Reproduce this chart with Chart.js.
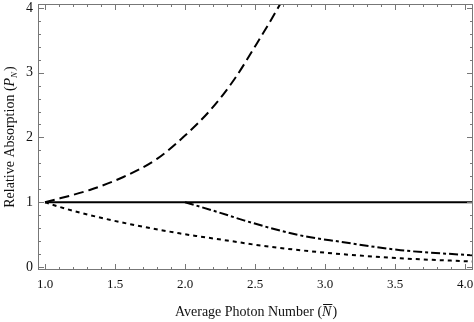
<!DOCTYPE html>
<html>
<head>
<meta charset="utf-8">
<script src="https://cdn.jsdelivr.net/npm/chart.js@4/dist/chart.umd.min.js"></script>
<style>
html,body{margin:0;padding:0;background:#fff;}
#wrap{width:474px;height:322px;}
</style>
</head>
<body>
<div id="wrap"><canvas id="c" width="474" height="322"></canvas></div>
<script>
// ---- data ----
const solidX = [1.0, 4.05];
const solidY = [1.0, 1.0];

const dashedX = [1.0, 1.32, 1.56, 1.80, 1.99, 2.18, 2.35, 2.51, 2.68, 2.80];
const dashedY = [1.0, 1.19, 1.39, 1.67, 2.01, 2.42, 2.89, 3.44, 4.06, 4.55];

const dashDotX = [2.0, 2.11, 2.32, 2.42, 2.82, 3.11, 3.54, 4.05];
const dashDotY = [1.0, 0.93, 0.79, 0.72, 0.49, 0.39, 0.26, 0.18];

const dottedX = [1.0, 1.04, 1.25, 1.61, 1.96, 2.11, 2.30, 2.58, 3.06, 3.54, 4.05];
const dottedY = [1.0, 0.97, 0.84, 0.66, 0.52, 0.47, 0.41, 0.32, 0.21, 0.135, 0.085];

const xTicks = [1.0, 1.5, 2.0, 2.5, 3.0, 3.5, 4.0];
const yTicks = [0, 1, 2, 3, 4];

const xTitle = "Average Photon Number";
const yTitle = "Relative Absorption";

const pts = (xs, ys) => xs.map((x, i) => ({x: x, y: ys[i]}));

const FONT = "'Liberation Serif', 'DejaVu Serif', serif";

const framePlugin = {
  id: 'frame',
  afterDatasetsDraw(chart) {
    const ctx = chart.ctx;
    const a = chart.chartArea;
    const xs = chart.scales.x, ys = chart.scales.y;
    ctx.save();
    ctx.strokeStyle = '#777';
    ctx.lineWidth = 1;
    ctx.strokeRect(a.left + 0.5, a.top + 0.5, a.right - a.left - 1, a.bottom - a.top - 1);
    ctx.beginPath();
    for (let k = 10; k <= 40; k++) {
      const v = k / 10;
      const px = Math.round(xs.getPixelForValue(v)) + 0.5;
      const len = (k % 5 === 0) ? 6 : 3;
      ctx.moveTo(px, a.bottom); ctx.lineTo(px, a.bottom - len);
      ctx.moveTo(px, a.top); ctx.lineTo(px, a.top + len);
    }
    for (let k = 0; k <= 20; k++) {
      const v = k / 5;
      const py = Math.round(ys.getPixelForValue(v)) + 0.5;
      const len = (k % 5 === 0) ? 6 : 3;
      ctx.moveTo(a.left, py); ctx.lineTo(a.left + len, py);
      ctx.moveTo(a.right, py); ctx.lineTo(a.right - len, py);
    }
    ctx.stroke();
    ctx.restore();
  },
  afterDraw(chart) {
    const ctx = chart.ctx;
    const a = chart.chartArea;
    ctx.save();
    ctx.fillStyle = '#111';
    ctx.textBaseline = 'alphabetic';
    const f = '14px ' + FONT, fi = 'italic 14px ' + FONT;
    const p1 = xTitle + ' (', p2 = 'N', p3 = ')';
    ctx.font = f; const w1 = ctx.measureText(p1).width, w3 = ctx.measureText(p3).width;
    ctx.font = fi; const w2 = ctx.measureText(p2).width;
    let x = (a.left + a.right) / 2 - (w1 + w2 + w3) / 2;
    const y = 316;
    ctx.font = f; ctx.fillText(p1, x, y); x += w1;
    ctx.font = fi; ctx.fillText(p2, x, y);
    ctx.fillRect(x + 1, y - 12, w2, 1);
    x += w2 + 1;
    ctx.font = f; ctx.fillText(p3, x, y);
    ctx.translate(14, (a.top + a.bottom) / 2);
    ctx.rotate(-Math.PI / 2);
    const q1 = yTitle + ' (', q2 = 'P', q3 = 'N', q4 = ')';
    const fs = 'italic 9px ' + FONT;
    ctx.font = f; const v1 = ctx.measureText(q1).width, v4 = ctx.measureText(q4).width;
    ctx.font = fi; const v2 = ctx.measureText(q2).width;
    ctx.font = fs; const v3 = ctx.measureText(q3).width;
    let t = -(v1 + v2 + v3 + v4 + 1) / 2;
    ctx.font = f; ctx.fillText(q1, t, 0); t += v1;
    ctx.font = fi; ctx.fillText(q2, t, 0); t += v2;
    ctx.font = fs; ctx.fillText(q3, t, 3); t += v3 + 1;
    ctx.font = f; ctx.fillText(q4, t, 0);
    ctx.restore();
  }
};

const common = {pointRadius: 0, borderColor: '#000', borderWidth: 2, fill: false,
  cubicInterpolationMode: 'monotone', clip: 0};

new Chart(document.getElementById('c'), {
  type: 'line',
  data: {
    datasets: [
      Object.assign({label: 'solid', data: pts(solidX, solidY), borderDash: []}, common),
      Object.assign({label: 'dashed', data: pts(dashedX, dashedY), borderDash: [10, 5]}, common),
      Object.assign({label: 'dashdot', data: pts(dashDotX, dashDotY), borderDash: [9, 3, 3, 3]}, common),
      Object.assign({label: 'dotted', data: pts(dottedX, dottedY), borderDash: [4, 4]}, common)
    ]
  },
  options: {
    responsive: false,
    animation: false,
    layout: {padding: {top: 4, right: 1, left: 0, bottom: 0}},
    plugins: {legend: {display: false}, tooltip: {enabled: false}},
    scales: {
      x: {
        type: 'linear', min: 0.95, max: 4.057,
        afterBuildTicks: s => { s.ticks = xTicks.map(v => ({value: v})); },
        afterFit: s => { s.height = 52; s.paddingLeft = 0; s.paddingRight = 0; },
        grid: {display: false, drawTicks: false},
        border: {display: false},
        ticks: {padding: 7, color: '#111', font: {family: FONT, size: 13},
          callback: v => Number(v).toFixed(1), maxRotation: 0, autoSkip: false}
      },
      y: {
        type: 'linear', min: -0.046, max: 4.06,
        afterBuildTicks: s => { s.ticks = yTicks.map(v => ({value: v})); },
        afterFit: s => { s.width = 38; s.paddingTop = 0; s.paddingBottom = 0; },
        grid: {display: false, drawTicks: false},
        border: {display: false},
        ticks: {padding: 5, color: '#111', font: {family: FONT, size: 14},
          callback: v => String(v), autoSkip: false}
      }
    }
  },
  plugins: [framePlugin]
});
</script>
</body>
</html>
